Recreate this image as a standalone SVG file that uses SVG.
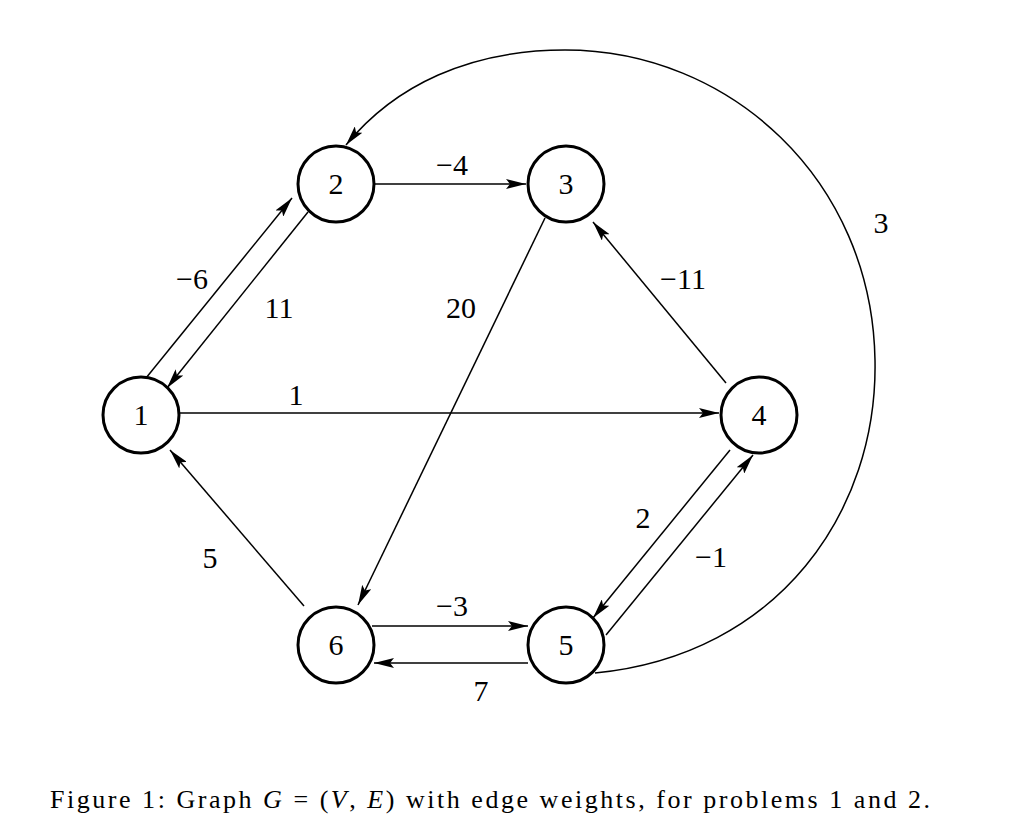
<svg xmlns="http://www.w3.org/2000/svg" width="1028" height="834" viewBox="0 0 1028 834">
<defs>
<marker id="a" viewBox="0 0 20 10" refX="20" refY="5" markerWidth="20" markerHeight="10" markerUnits="userSpaceOnUse" orient="auto">
<path d="M0,0 L20,5 L0,10 L4,5 Z" fill="#000"/>
</marker>
</defs>
<style>
.n circle{fill:#fff;stroke:#000;stroke-width:3}
text{font-family:"Liberation Serif","DejaVu Serif",serif;font-size:30px;fill:#000}
.n text{text-anchor:middle}
#edges line,#edges path{stroke:#000;stroke-width:1.5;fill:none;marker-end:url(#a)}
.l{text-anchor:middle}
</style>
<rect width="1028" height="834" fill="#fff"/>
<g id="edges">
<line x1="146" y1="378" x2="292" y2="198"/>
<line x1="308" y1="212" x2="167" y2="388"/>
<line x1="374" y1="184" x2="526" y2="184"/>
<line x1="545" y1="218" x2="358" y2="605"/>
<line x1="726" y1="383" x2="593" y2="222"/>
<line x1="180" y1="413" x2="719" y2="413"/>
<line x1="304" y1="606" x2="170" y2="450"/>
<line x1="372" y1="626" x2="528" y2="626"/>
<line x1="528" y1="663" x2="374" y2="663"/>
<line x1="730" y1="450" x2="593" y2="618"/>
<line x1="606" y1="635" x2="753" y2="455"/>
<path d="M595,673 C780,655 878,510 875,360 C872,180 730,50 565,50 C470,50 395,85 346,145"/>
</g>
<g id="labels">
<text class="l" x="452" y="175">−4</text>
<text class="l" x="461" y="318">20</text>
<text class="l" x="683" y="289">−11</text>
<text class="l" x="296" y="405">1</text>
<text class="l" x="192" y="289">−6</text>
<text class="l" x="279" y="318">11</text>
<text class="l" x="210" y="568">5</text>
<text class="l" x="452" y="616">−3</text>
<text class="l" x="481" y="701">7</text>
<text class="l" x="643" y="528">2</text>
<text class="l" x="711" y="567">−1</text>
<text class="l" x="881" y="233">3</text>
</g>
<g id="n1" class="n"><circle cx="141" cy="415" r="38"/><text x="141" y="425">1</text></g>
<g id="n2" class="n"><circle cx="336" cy="184" r="38"/><text x="336" y="194">2</text></g>
<g id="n3" class="n"><circle cx="566" cy="184" r="38"/><text x="566" y="194">3</text></g>
<g id="n4" class="n"><circle cx="759" cy="415" r="38"/><text x="759" y="425">4</text></g>
<g id="n5" class="n"><circle cx="566" cy="645" r="38"/><text x="566" y="655">5</text></g>
<g id="n6" class="n"><circle cx="336" cy="645" r="38"/><text x="336" y="655">6</text></g>
<text x="50" y="808" style="font-size:26px" textLength="880" lengthAdjust="spacing">Figure 1: Graph <tspan font-style="italic">G</tspan> = (<tspan font-style="italic">V</tspan>, <tspan font-style="italic">E</tspan>) with edge weights, for problems 1 and 2.</text>
</svg>
